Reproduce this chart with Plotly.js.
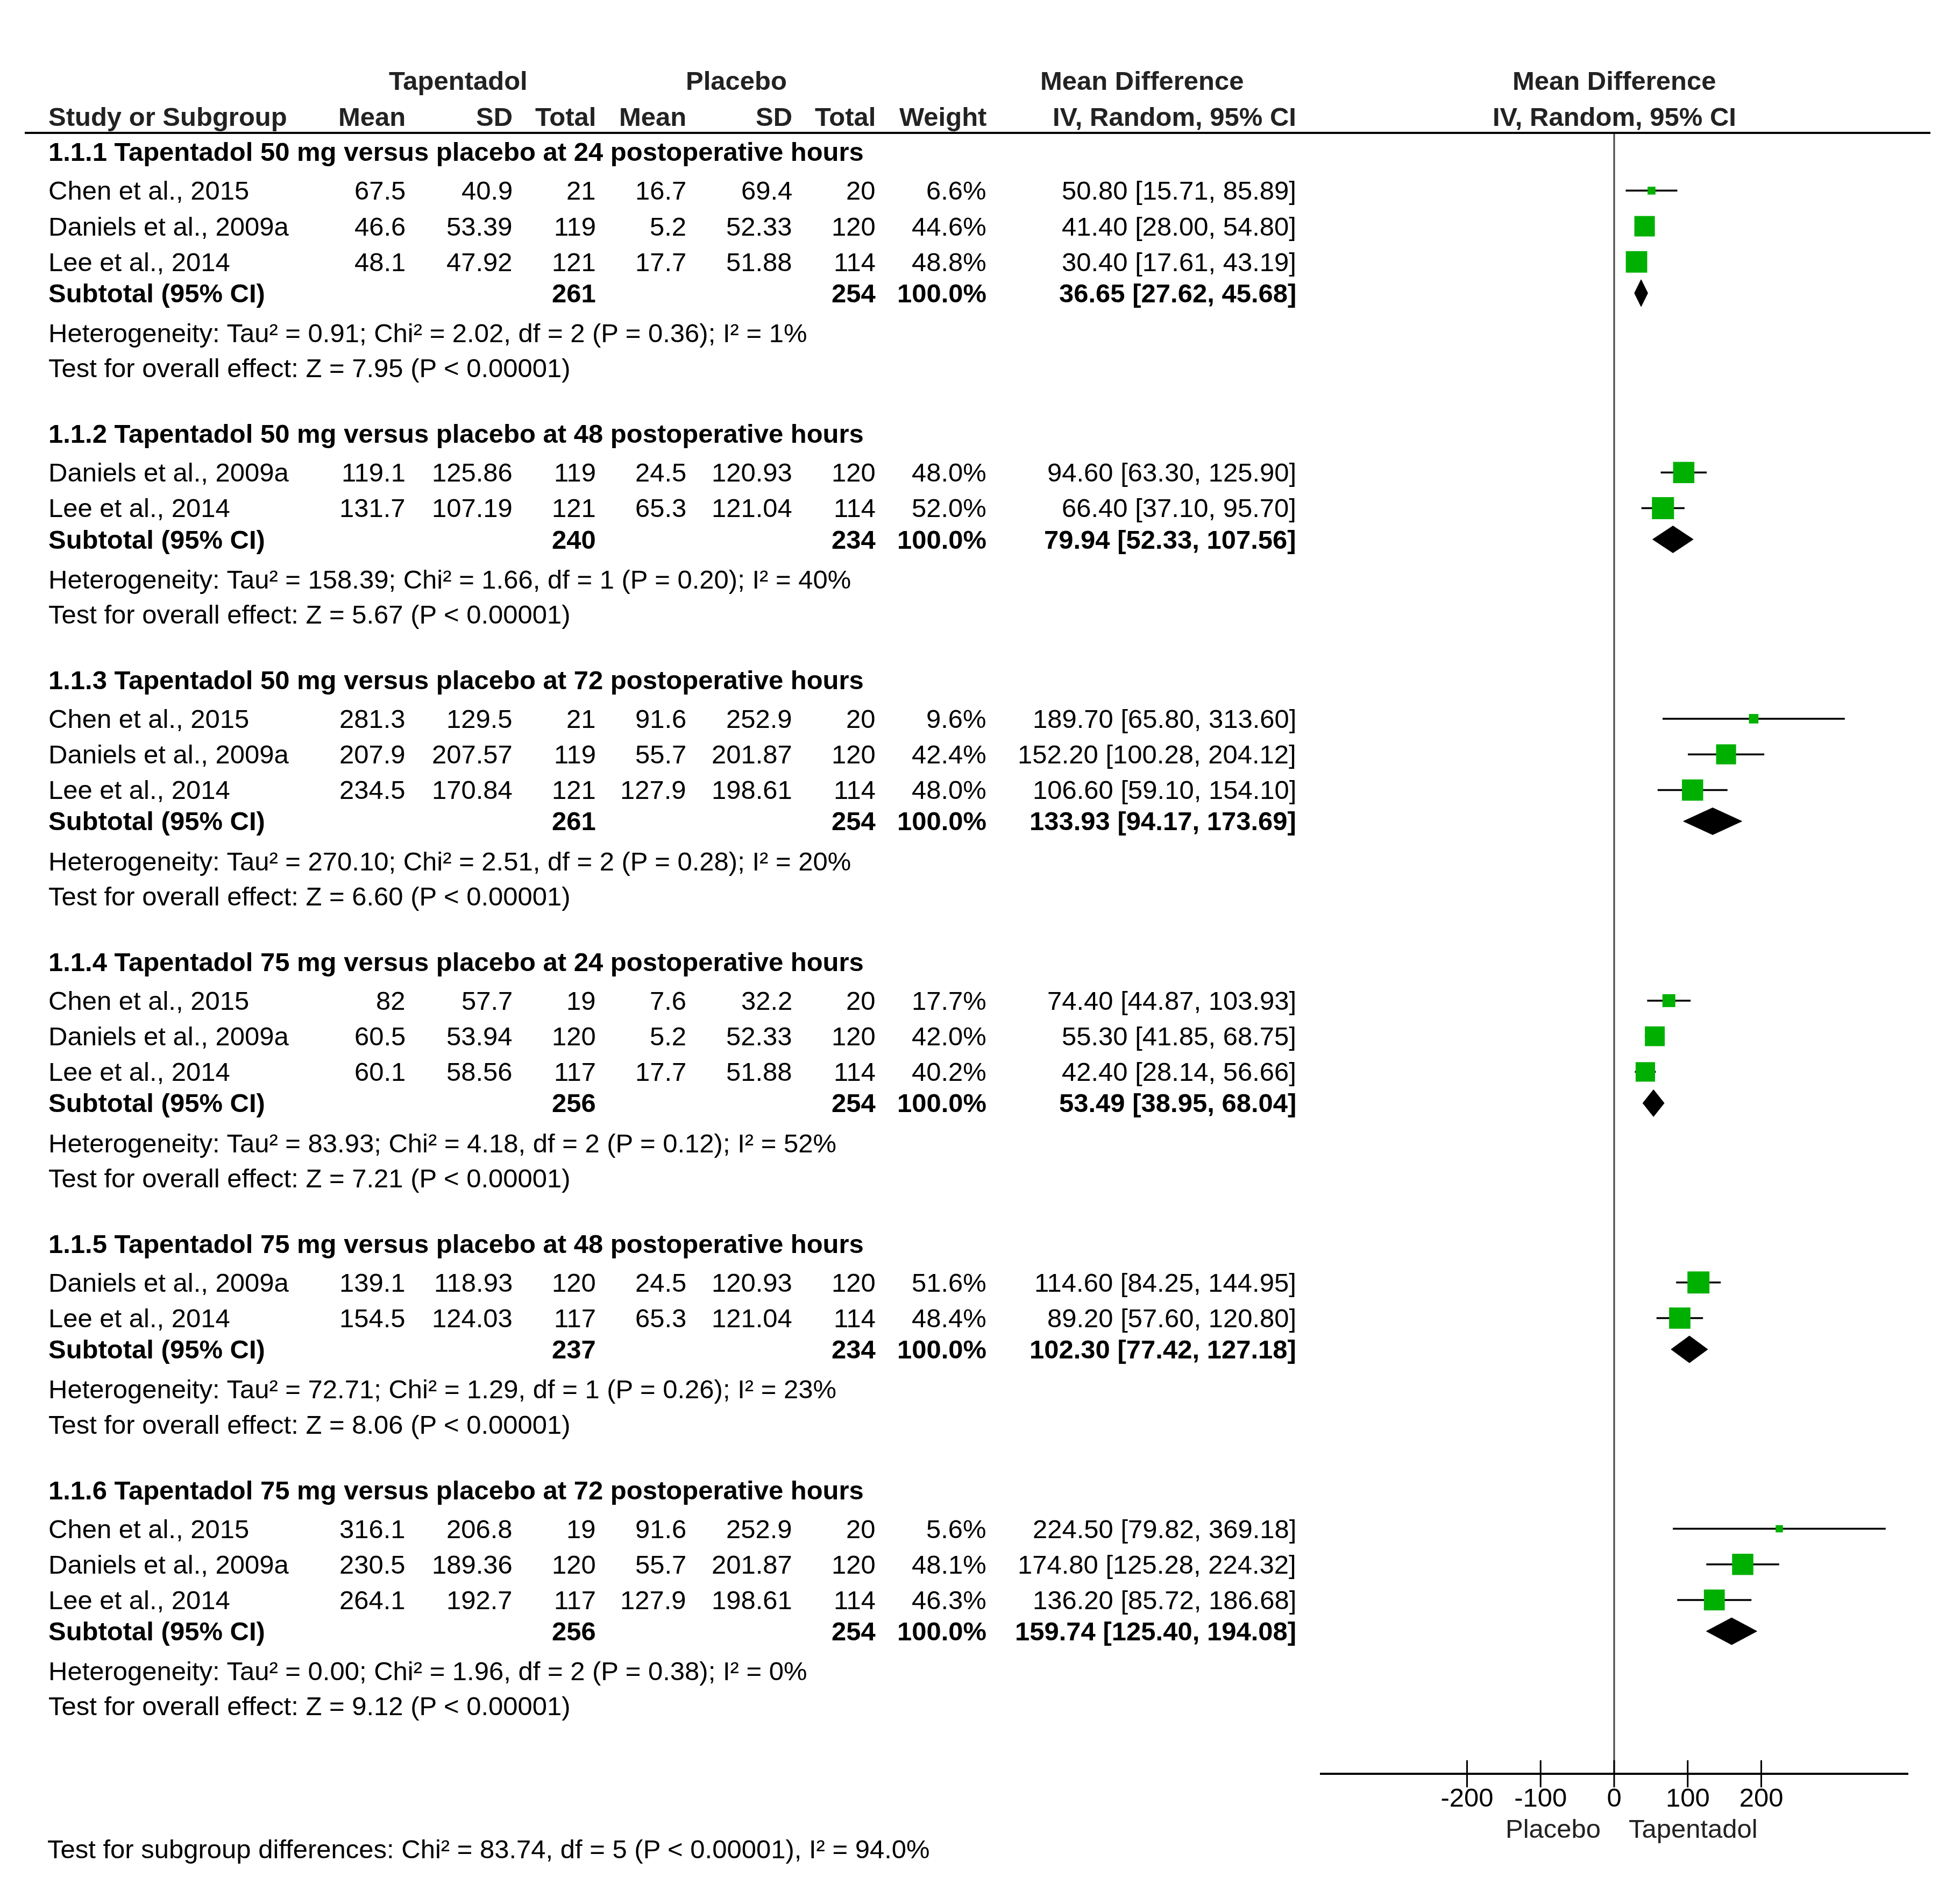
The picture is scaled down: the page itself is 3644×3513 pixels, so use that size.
<!DOCTYPE html>
<html><head><meta charset="utf-8">
<script src="https://cdn.plot.ly/plotly-3.0.1.min.js"></script>
<style>html,body{margin:0;padding:0;background:#fff}</style>
</head><body><div id="chart" style="width:3644px;height:3513px"></div>
<script>
// ---------------- DATA ----------------
const subgroupTitles = [
  "1.1.1 Tapentadol 50 mg versus placebo at 24 postoperative hours",
  "1.1.2 Tapentadol 50 mg versus placebo at 48 postoperative hours",
  "1.1.3 Tapentadol 50 mg versus placebo at 72 postoperative hours",
  "1.1.4 Tapentadol 75 mg versus placebo at 24 postoperative hours",
  "1.1.5 Tapentadol 75 mg versus placebo at 48 postoperative hours",
  "1.1.6 Tapentadol 75 mg versus placebo at 72 postoperative hours"
];
const studyGroup = [0,0,0, 1,1, 2,2,2, 3,3,3, 4,4, 5,5,5];
const studyNames = [
  "Chen et al., 2015","Daniels et al., 2009a","Lee et al., 2014",
  "Daniels et al., 2009a","Lee et al., 2014",
  "Chen et al., 2015","Daniels et al., 2009a","Lee et al., 2014",
  "Chen et al., 2015","Daniels et al., 2009a","Lee et al., 2014",
  "Daniels et al., 2009a","Lee et al., 2014",
  "Chen et al., 2015","Daniels et al., 2009a","Lee et al., 2014"
];
const tapMean = [67.5,46.6,48.1, 119.1,131.7, 281.3,207.9,234.5, 82,60.5,60.1, 139.1,154.5, 316.1,230.5,264.1];
const tapSD   = [40.9,53.39,47.92, 125.86,107.19, 129.5,207.57,170.84, 57.7,53.94,58.56, 118.93,124.03, 206.8,189.36,192.7];
const tapN    = [21,119,121, 119,121, 21,119,121, 19,120,117, 120,117, 19,120,117];
const plaMean = [16.7,5.2,17.7, 24.5,65.3, 91.6,55.7,127.9, 7.6,5.2,17.7, 24.5,65.3, 91.6,55.7,127.9];
const plaSD   = [69.4,52.33,51.88, 120.93,121.04, 252.9,201.87,198.61, 32.2,52.33,51.88, 120.93,121.04, 252.9,201.87,198.61];
const plaN    = [20,120,114, 120,114, 20,120,114, 20,120,114, 120,114, 20,120,114];
const weight  = [6.6,44.6,48.8, 48.0,52.0, 9.6,42.4,48.0, 17.7,42.0,40.2, 51.6,48.4, 5.6,48.1,46.3];
const md      = [50.80,41.40,30.40, 94.60,66.40, 189.70,152.20,106.60, 74.40,55.30,42.40, 114.60,89.20, 224.50,174.80,136.20];
const mdLo    = [15.71,28.00,17.61, 63.30,37.10, 65.80,100.28,59.10, 44.87,41.85,28.14, 84.25,57.60, 79.82,125.28,85.72];
const mdHi    = [85.89,54.80,43.19, 125.90,95.70, 313.60,204.12,154.10, 103.93,68.75,56.66, 144.95,120.80, 369.18,224.32,186.68];

const subTapN = [261,240,261,256,237,256];
const subPlaN = [254,234,254,254,234,254];
const subMD   = [36.65,79.94,133.93,53.49,102.30,159.74];
const subLo   = [27.62,52.33,94.17,38.95,77.42,125.40];
const subHi   = [45.68,107.56,173.69,68.04,127.18,194.08];
const tau2    = [0.91,158.39,270.10,83.93,72.71,0.00];
const chi2    = [2.02,1.66,2.51,4.18,1.29,1.96];
const dfHet   = [2,1,2,2,1,2];
const pHet    = [0.36,0.20,0.28,0.12,0.26,0.38];
const i2      = [1,40,20,52,23,0];
const zOverall= [7.95,5.67,6.60,7.21,8.06,9.12];

const tickVals = [-200,-100,0,100,200];
const tickText = ["-200","-100","0","100","200"];
const favourLeft = "Placebo", favourRight = "Tapentadol";
const subgroupTest = "Test for subgroup differences: Chi² = 83.74, df = 5 (P &lt; 0.00001), I² = 94.0%";

// ---------------- LAYOUT ----------------
const W = 3644, H = 3513, S = 3513/1512;
const FS = 49;
const FONT = 'Liberation Sans, Arial, sans-serif';
const col = {study: 89, tapMean: 755, tapSD: 954, tapN: 1109, plaMean: 1277, plaSD: 1474, plaN: 1629, weight: 1835, ci: 2411};
const annotations = [];
function txt(x, y, text, anchor, color) {
  annotations.push({xref:'paper', yref:'y', x: x/W, y: y, text: text, xanchor: anchor, yanchor:'middle',
    showarrow:false, borderpad:0, font:{family:FONT, size:FS, color: color || '#000'}});
}
const fmt2 = v => v.toFixed(2);
const ciStr = (m,l,h) => fmt2(m) + " [" + fmt2(l) + ", " + fmt2(h) + "]";

// headers
const HC = '#222';
txt(852, 150, '<b>Tapentadol</b>', 'center', HC);
txt(1369, 150, '<b>Placebo</b>', 'center', HC);
txt(2123, 150, '<b>Mean Difference</b>', 'center', HC);
txt(3001, 150, '<b>Mean Difference</b>', 'center', HC);
txt(col.study, 217, '<b>Study or Subgroup</b>', 'left', HC);
txt(col.tapMean, 217, '<b>Mean</b>', 'right', HC);
txt(col.tapSD, 217, '<b>SD</b>', 'right', HC);
txt(col.tapN, 217, '<b>Total</b>', 'right', HC);
txt(col.plaMean, 217, '<b>Mean</b>', 'right', HC);
txt(col.plaSD, 217, '<b>SD</b>', 'right', HC);
txt(col.plaN, 217, '<b>Total</b>', 'right', HC);
txt(col.weight, 217, '<b>Weight</b>', 'right', HC);
txt(col.ci, 217, '<b>IV, Random, 95% CI</b>', 'right', HC);
txt(3001, 217, '<b>IV, Random, 95% CI</b>', 'center', HC);

const rowY = [], subY = [];
let y = 121.5 * S;
subgroupTitles.forEach((title, g) => {
  txt(col.study, y, '<b>' + title + '</b>', 'left');
  y += 31 * S;
  let first = true;
  studyGroup.forEach((gg, i) => {
    if (gg !== g) return;
    if (!first) y += 28.5 * S;
    first = false;
    rowY[i] = y;
    txt(col.study, y, studyNames[i], 'left');
    txt(col.tapMean, y, String(tapMean[i]), 'right');
    txt(col.tapSD, y, String(tapSD[i]), 'right');
    txt(col.tapN, y, String(tapN[i]), 'right');
    txt(col.plaMean, y, String(plaMean[i]), 'right');
    txt(col.plaSD, y, String(plaSD[i]), 'right');
    txt(col.plaN, y, String(plaN[i]), 'right');
    txt(col.weight, y, weight[i].toFixed(1) + '%', 'right');
    txt(col.ci, y, ciStr(md[i], mdLo[i], mdHi[i]), 'right');
  });
  y += 25 * S;
  subY[g] = y;
  txt(col.study, y, '<b>Subtotal (95% CI)</b>', 'left');
  txt(col.tapN, y, '<b>' + subTapN[g] + '</b>', 'right');
  txt(col.plaN, y, '<b>' + subPlaN[g] + '</b>', 'right');
  txt(col.weight, y, '<b>100.0%</b>', 'right');
  txt(col.ci, y, '<b>' + ciStr(subMD[g], subLo[g], subHi[g]) + '</b>', 'right');
  y += 32 * S;
  txt(col.study, y, 'Heterogeneity: Tau² = ' + fmt2(tau2[g]) + '; Chi² = ' + fmt2(chi2[g]) + ', df = ' + dfHet[g] +
      ' (P = ' + fmt2(pHet[g]) + '); I² = ' + i2[g] + '%', 'left');
  y += 28 * S;
  txt(col.study, y, 'Test for overall effect: Z = ' + fmt2(zOverall[g]) + ' (P &lt; 0.00001)', 'left');
  y += 52.5 * S;
});

const AXIS_Y = 3297;
txt(87, 3437, subgroupTest, 'left');
annotations.push({xref:'x', yref:'y', x:0, y:3399, xshift:-24, text:favourLeft, xanchor:'right', yanchor:'middle', showarrow:false, borderpad:0, font:{family:FONT,size:FS,color:'#222'}});
annotations.push({xref:'x', yref:'y', x:0, y:3399, xshift:26, text:favourRight, xanchor:'left', yanchor:'middle', showarrow:false, borderpad:0, font:{family:FONT,size:FS,color:'#222'}});

// ---------------- TRACES ----------------
const traces = [];
// CI lines
const ciX = [], ciY = [];
md.forEach((m, i) => { ciX.push(mdLo[i], mdHi[i], null); ciY.push(rowY[i], rowY[i], null); });
traces.push({type:'scatter', mode:'lines', x:ciX, y:ciY, line:{color:'#000', width:3.5}, hoverinfo:'skip'});
// squares
traces.push({type:'scatter', mode:'markers', x:md, y:rowY,
  marker:{symbol:'square', color:'#00b000', opacity:1, size: weight.map(w => 5.7*Math.sqrt(w)), line:{width:0}}, hoverinfo:'skip'});
// diamonds
const DH = 25;
subMD.forEach((m, g) => {
  traces.push({type:'scatter', mode:'lines', fill:'toself', fillcolor:'#000',
    x:[subLo[g], m, subHi[g], m, subLo[g]], y:[subY[g], subY[g]-DH, subY[g], subY[g]+DH, subY[g]],
    line:{color:'#000', width:1}, hoverinfo:'skip'});
});
// tick marks crossing the axis line
traces.push({type:'scatter', mode:'markers', x:tickVals, y:tickVals.map(() => AXIS_Y),
  marker:{symbol:'line-ns', size:36, color:'#000', opacity:1, line:{color:'#000', width:3}}, hoverinfo:'skip', cliponaxis:false});

const xdom = [2454/W, 3548/W];
const layout = {
  width:W, height:H, margin:{l:0,r:0,t:0,b:0}, showlegend:false,
  paper_bgcolor:'#fff', plot_bgcolor:'rgba(0,0,0,0)', hovermode:false,
  xaxis:{domain:xdom, range:[-400,400], anchor:'free', position:1-AXIS_Y/H,
    showline:true, linecolor:'#000', linewidth:4, ticks:'',
    tickmode:'array', tickvals:tickVals, ticktext:tickText, tickfont:{family:FONT,size:FS,color:'#000'},
    showgrid:false, zeroline:false, fixedrange:true},
  yaxis:{domain:[0,1], range:[H,0], visible:false, fixedrange:true},
  shapes:[
    {type:'line', xref:'paper', yref:'y', x0:46/W, x1:3589/W, y0:247, y1:247, line:{color:'#000', width:4}},
    {type:'line', xref:'x', yref:'y', x0:0, x1:0, y0:247, y1:AXIS_Y, layer:'below', line:{color:'#444', width:3}}
  ],
  annotations: annotations
};
Plotly.newPlot('chart', traces, layout, {staticPlot:true, displayModeBar:false});
</script>
</body></html>
